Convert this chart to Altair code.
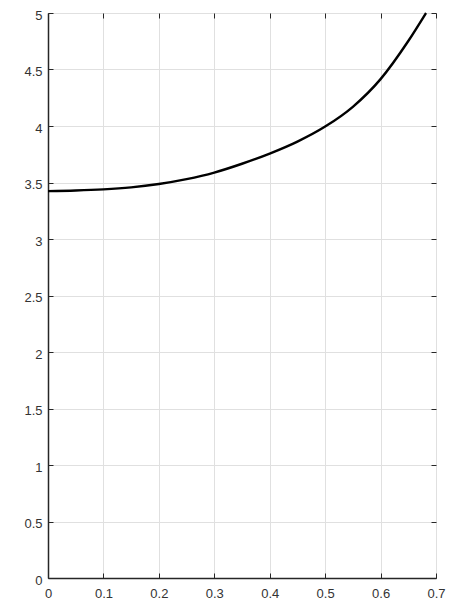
import altair as alt
import pandas as pd

# values
x_vals = [0.0, 0.05, 0.1, 0.15, 0.2, 0.25, 0.3, 0.35, 0.4, 0.45, 0.5, 0.55, 0.6, 0.65, 0.682]
y_vals = [3.424, 3.429, 3.439, 3.457, 3.487, 3.53, 3.588, 3.666, 3.756, 3.862, 3.995, 4.17, 4.415, 4.752, 5.0]
x_ticks = [0, 0.1, 0.2, 0.3, 0.4, 0.5, 0.6, 0.7]
y_ticks = [0, 0.5, 1, 1.5, 2, 2.5, 3, 3.5, 4, 4.5, 5]

W, H = 388, 565
AX = "#262626"
LBL = "#333333"
FONT = "Liberation Sans"

df = pd.DataFrame({"x": x_vals, "y": y_vals})
xs = alt.Scale(domain=[0, 0.7], nice=False, zero=False)
ys = alt.Scale(domain=[0, 5], nice=False, zero=False)

base = alt.Chart(df)

main = base.mark_line(color="black", strokeWidth=2.4, interpolate="monotone").encode(
    x=alt.X("x:Q", scale=xs, title=None, axis=alt.Axis(
        orient="bottom", values=x_ticks, format="~g", grid=True, gridColor="#e0e0e0",
        domain=True, domainColor=AX, domainWidth=1.3, ticks=False, labelPadding=9,
        labelFlush=False, labelOverlap=False, labelColor=LBL, labelFontSize=13,
        labelFont=FONT)),
    y=alt.Y("y:Q", scale=ys, title=None, axis=alt.Axis(
        orient="left", values=y_ticks, format="~g", grid=True, gridColor="#e0e0e0",
        domain=True, domainColor=AX, domainWidth=1.5, ticks=False, labelPadding=6,
        labelOffset=2, labelFlush=False, labelOverlap=False, labelColor=LBL,
        labelFontSize=13, labelFont=FONT)),
)


def tick_layer(xorient, xoff, yorient, yoff):
    return base.mark_line(strokeOpacity=0).encode(
        x=alt.X("x:Q", scale=xs, title=None, axis=alt.Axis(
            orient=xorient, offset=xoff, values=x_ticks, grid=False, domain=False,
            labels=False, ticks=True, tickSize=5, tickColor=AX, tickWidth=1)),
        y=alt.Y("y:Q", scale=ys, title=None, axis=alt.Axis(
            orient=yorient, offset=yoff, values=y_ticks, grid=False, domain=False,
            labels=False, ticks=True, tickSize=5, tickColor=AX, tickWidth=1)),
    )


# inward ticks: bottom & left edges, then top & right edges
t1 = tick_layer("top", -H, "right", -W)
t2 = tick_layer("bottom", -H, "left", -W)

chart = alt.layer(main, t1, t2).resolve_axis(x="independent", y="independent").properties(
    width=W, height=H, autosize="none",
    padding={"left": 40, "top": 5, "right": 10, "bottom": 21},
).configure_view(stroke=AX, strokeWidth=1.2).configure(background="white")

chart.save("out.html", embed_options={"renderer": "svg", "actions": False})
